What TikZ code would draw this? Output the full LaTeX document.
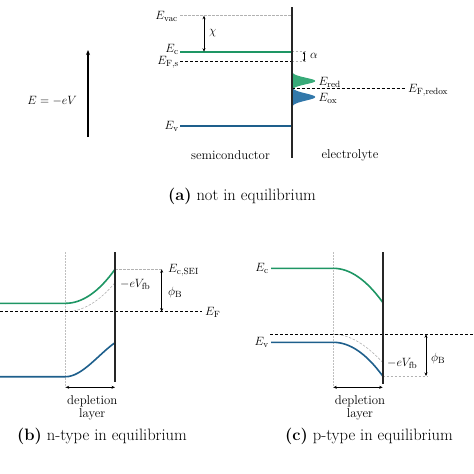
\documentclass[tikz,border=0pt]{standalone}
\usetikzlibrary{arrows.meta}
\definecolor{bgreen}{RGB}{30,150,100}
\definecolor{bblue}{RGB}{30,95,140}
\definecolor{ggreen}{RGB}{55,170,120}
\definecolor{gblue}{RGB}{50,120,170}
\begin{document}
\begin{tikzpicture}[x=1pt,y=-1pt,
  band/.style={line width=1.6pt},
  iface/.style={line width=1.6pt, black!85},
  fermi/.style={line width=1.1pt, dash pattern=on 3pt off 2pt},
  guide/.style={gray!60, line width=0.6pt, dash pattern=on 2.5pt off 1.5pt},
  dotguide/.style={gray!50, line width=0.6pt, dash pattern=on 1.5pt off 1.5pt},
  dim/.style={line width=0.7pt, {Stealth[length=3.5pt,width=3pt]}-{Stealth[length=3.5pt,width=3pt]}},
  smalldim/.style={line width=0.6pt, {Stealth[length=2.5pt,width=2.5pt]}-{Stealth[length=2.5pt,width=2.5pt]}},
  lab/.style={font=\fontsize{12.8}{15}\selectfont, inner sep=1pt},
  captext/.style={font=\fontsize{16.5}{19}\selectfont, inner sep=0pt}]
\useasboundingbox (0,0) rectangle (474,474);

% ---------- (a) ----------
\coordinate (aT) at (291.7,7);
\coordinate (aB) at (291.7,158);
\coordinate (vacL) at (180,15.7);   \coordinate (vacR) at (291.7,15.7);
\coordinate (ecL) at (180,51.7);    \coordinate (ecR) at (291.7,51.7);
\coordinate (efL) at (180,61.7);    \coordinate (efR) at (291.7,61.7);
\coordinate (evL) at (180,125.7);   \coordinate (evR) at (291.7,125.7);
\coordinate (redoxL) at (291.7,88.3); \coordinate (redoxR) at (405,88.3);
\coordinate (chiT) at (204,15.7);   \coordinate (chiB) at (204,51.7);
\coordinate (alT) at (307,51.7);    \coordinate (alB) at (307,61.7);
\coordinate (alaT) at (304,51.7);   \coordinate (alaB) at (304,61.7);

% Gaussians
\fill[ggreen] (291.7,70) -- plot[domain=70:88.3, samples=50] ({291.7+23.5*exp(-((\x-81)/4.6)^2)}, \x) -- (291.7,88.3) -- cycle;
\fill[gblue] (291.7,88.3) -- plot[domain=88.3:108, samples=50] ({291.7+23.5*exp(-((\x-97)/5)^2)}, \x) -- (291.7,108) -- cycle;

\draw[guide] (vacL) -- (vacR);
\draw[band,bgreen] (ecL) -- (ecR);
\draw[fermi] (efL) -- (efR);
\draw[band,bblue] (evL) -- (evR);
\draw[fermi] (redoxL) -- (redoxR);
\draw[guide] (ecR) -- (alT);
\draw[guide] (efR) -- (alB);
\draw[smalldim] (alaT) -- (alaB);
\draw[dim] (chiT) -- (chiB);
\draw[iface] (aT) -- (aB);

\node[lab, anchor=east] (Lvac) at (179,16.5) {$E_{\mathrm{vac}}$};
\node[lab, anchor=east] (Lec) at (180,49.5) {$E_{\mathrm{c}}$};
\node[lab, anchor=east] (Lefs) at (180,62.5) {$E_{\mathrm{F,s}}$};
\node[lab, anchor=east] (Lev) at (180,126) {$E_{\mathrm{v}}$};
\node[lab, anchor=west] (Lchi) at (208,33) {$\chi$};
\node[lab, anchor=west] (Lal) at (309,56) {$\alpha$};
\node[lab, anchor=west] (Lred) at (317.5,82) {$E_{\mathrm{red}}$};
\node[lab, anchor=west] (Lox) at (317.5,98) {$E_{\mathrm{ox}}$};
\node[lab, anchor=west] (Lredox) at (407,90) {$E_{\mathrm{F,redox}}$};
\node[lab] (Lsemi) at (230.5,155) {semiconductor};
\node[lab] (Lelec) at (350,155) {electrolyte};

% energy axis
\coordinate (axB) at (88,137);
\coordinate (axT) at (88,50);
\draw[line width=1.1pt, -{Stealth[length=5pt,width=4pt]}] (axB) -- (axT);
\node[lab, anchor=east] (Laxis) at (78,101) {$E=-eV$};

\node[captext] (capA) at (242,196) {\textbf{(a)} not in equilibrium};

% ---------- (b) ----------
\coordinate (bT) at (115,252);   \coordinate (bB) at (115,382);
\coordinate (bdT) at (65.7,252); \coordinate (bdB) at (65.7,388);
\coordinate (bcS) at (65.7,303.3); \coordinate (bcE) at (115,269.3);
\coordinate (bvS) at (65.7,376.7); \coordinate (bvE) at (115,342.7);
\coordinate (bgS) at (65.7,311.7); \coordinate (bgE) at (115,282.7);
\coordinate (bfL) at (0,311.7);  \coordinate (bfR) at (202,311.7);
\coordinate (bsR) at (162,269.3);
\coordinate (bpT) at (161.7,269.3); \coordinate (bpB) at (161.7,311.7);
\coordinate (bdl) at (65.7,387.3); \coordinate (bdr) at (115,387.3);

\draw[dotguide] (bdT) -- (bdB);
\draw[guide] (bgS) .. controls (82.1,311.7) and (98.8,302.0) .. (bgE);
\draw[guide] (bcE) -- (bsR);
\draw[band,bgreen] (0,303.3) -- (bcS) .. controls (82.1,303.3) and (98.8,292) .. (bcE);
\draw[band,bblue] (0,376.7) -- (bvS) .. controls (82.1,376.7) and (98.8,354.0) .. (bvE);
\draw[fermi] (bfL) -- (bfR);
\draw[dim] (bpT) -- (bpB);
\draw[dim] (bdl) -- (bdr);
\draw[iface] (bT) -- (bB);

\node[lab, anchor=west] (LbEF) at (204,312.5) {$E_{\mathrm{F}}$};
\node[lab, anchor=west] (LbSEI) at (167,270.5) {$E_{\mathrm{c,SEI}}$};
\node[lab, anchor=west] (Lbphi) at (167,292) {$\phi_{\mathrm{B}}$};
\node[lab, anchor=west] (Lbfb) at (119,284) {$-eV_{\mathrm{fb}}$};
\node[lab, align=center, font=\fontsize{12.8}{13.5}\selectfont] (Lbdep) at (92.3,408) {depletion\\layer};
\node[captext] (capB) at (102,436) {\textbf{(b)} n-type in equilibrium};

% ---------- (c) ----------
\coordinate (cT) at (382.7,252);   \coordinate (cB) at (382.7,384);
\coordinate (cdT) at (333.3,252);  \coordinate (cdB) at (333.3,388);
\coordinate (ccL) at (271,268.3);  \coordinate (ccS) at (333.3,268.3); \coordinate (ccE) at (382.7,302.3);
\coordinate (cvL) at (271,342.3);  \coordinate (cvS) at (333.3,342.3); \coordinate (cvE) at (382.7,376);
\coordinate (cgS) at (333.3,334.3); \coordinate (cgE) at (382.7,362.5);
\coordinate (cfL) at (270,334.3);  \coordinate (cfR) at (474,334.3);
\coordinate (csR) at (428.3,376);
\coordinate (cpT) at (426,334.3); \coordinate (cpB) at (426,376);
\coordinate (cdl) at (333.3,387.3); \coordinate (cdr) at (382.7,387.3);

\draw[dotguide] (cdT) -- (cdB);
\draw[guide] (cgS) .. controls (349.8,334.3) and (366.2,344.7) .. (cgE);
\draw[guide] (cvE) -- (csR);
\draw[band,bgreen] (ccL) -- (ccS) .. controls (349.8,268.3) and (366.2,279.6) .. (ccE);
\draw[band,bblue] (cvL) -- (cvS) .. controls (349.8,342.3) and (366.2,353.5) .. (cvE);
\draw[fermi] (cfL) -- (cfR);
\draw[dim] (cpT) -- (cpB);
\draw[dim] (cdl) -- (cdr);
\draw[iface] (cT) -- (cB);

\node[lab, anchor=east] (Lcec) at (270,268) {$E_{\mathrm{c}}$};
\node[lab, anchor=east] (Lcev) at (270,342.5) {$E_{\mathrm{v}}$};
\node[lab, anchor=west] (Lcphi) at (430,358) {$\phi_{\mathrm{B}}$};
\node[lab, anchor=west] (Lcfb) at (386,363) {$-eV_{\mathrm{fb}}$};
\node[lab, align=center, font=\fontsize{12.8}{13.5}\selectfont] (Lcdep) at (360,408) {depletion\\layer};
\node[captext] (capC) at (369,436) {\textbf{(c)} p-type in equilibrium};
\end{tikzpicture}
\end{document}
